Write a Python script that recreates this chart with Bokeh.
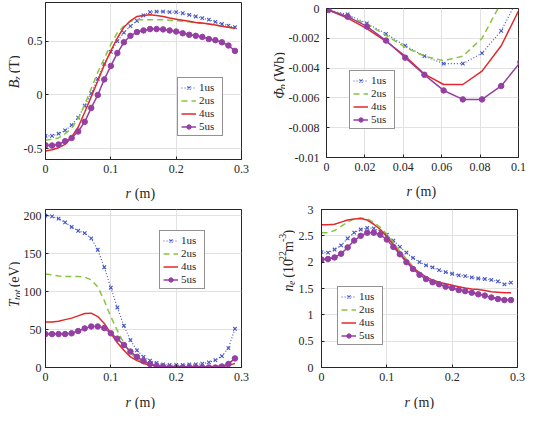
from math import pi

from bokeh.plotting import figure
from bokeh.layouts import row, column
from bokeh.models import Label, FixedTicker
from bokeh.embed import file_html
from bokeh.resources import INLINE

# ---- data ----
r_prof = [0.00, 0.01, 0.02, 0.03, 0.04, 0.05, 0.06, 0.07, 0.08, 0.09,
          0.10, 0.11, 0.12, 0.13, 0.14, 0.15, 0.16, 0.17, 0.18, 0.19,
          0.20, 0.21, 0.22, 0.23, 0.24, 0.25, 0.26, 0.27, 0.28, 0.29]
r_flux = [0.001, 0.011, 0.021, 0.031, 0.041, 0.051, 0.061, 0.071, 0.081, 0.091, 0.101]

series_names = ["1us", "2us", "4us", "5us"]

bz_1 = [-0.38, -0.38, -0.36, -0.33, -0.28, -0.21, -0.10, 0.015, 0.15, 0.29,
        0.40, 0.50, 0.58, 0.64, 0.69, 0.74, 0.77, 0.775, 0.775, 0.77,
        0.77, 0.76, 0.745, 0.73, 0.715, 0.70, 0.68, 0.66, 0.645, 0.63]
bz_2 = [-0.42, -0.41, -0.40, -0.36, -0.31, -0.22, -0.09, 0.06, 0.21, 0.34,
        0.47, 0.58, 0.64, 0.685, 0.70, 0.70, 0.70, 0.70, 0.70, 0.695,
        0.69, 0.685, 0.68, 0.67, 0.665, 0.66, 0.65, 0.64, 0.63, 0.62]
bz_4 = [-0.52, -0.51, -0.49, -0.46, -0.39, -0.30, -0.16, -0.015, 0.13, 0.28,
        0.41, 0.53, 0.63, 0.69, 0.73, 0.74, 0.745, 0.74, 0.73, 0.715,
        0.705, 0.695, 0.685, 0.675, 0.67, 0.66, 0.65, 0.64, 0.63, 0.62]
bz_5 = [-0.467, -0.47, -0.46, -0.43, -0.40, -0.34, -0.25, -0.12, 0.0, 0.145,
        0.27, 0.39, 0.49, 0.55, 0.585, 0.60, 0.613, 0.613, 0.61, 0.60,
        0.59, 0.574, 0.56, 0.55, 0.54, 0.52, 0.51, 0.49, 0.46, 0.41]

phi_1 = [-0.0001, -0.0004, -0.001, -0.0017, -0.0025, -0.0032, -0.0037, -0.0037, -0.003, -0.0015, 0.001]
phi_2 = [-0.0001, -0.0005, -0.00105, -0.0018, -0.0026, -0.0032, -0.0035, -0.0032, -0.002, 0.0004, 0.003]
phi_4 = [-0.0001, -0.00065, -0.00135, -0.0022, -0.0032, -0.0044, -0.0051, -0.0051, -0.0042, -0.0025, 0.0001]
phi_5 = [-0.0001, -0.00055, -0.0012, -0.00215, -0.0033, -0.00445, -0.0055, -0.0061, -0.0061, -0.0052, -0.0036]

t_1 = [200, 199, 196, 191, 185, 180, 177, 170, 155, 132,
       105, 79, 55, 36, 22.6, 14, 9, 6, 4, 3.3,
       3.3, 3.3, 4, 4, 5, 6.7, 9.6, 15, 25.5, 51]
t_2 = [123, 122, 120.5, 119.7, 119.7, 119.7, 119, 115.5, 106, 88,
       67, 48.5, 32, 19, 11, 6.7, 4, 2.5, 1.7, 1.7,
       1.7, 1.7, 1.7, 1.7, 1.7, 1.7, 1.7, 3.3, 6, 11]
t_4 = [60, 60, 61, 63, 65, 68, 71, 71.5, 67, 58,
       45, 32.6, 22.6, 14, 9, 5.4, 3.3, 2, 1, 1,
       1, 1, 1, 1, 1, 1, 1, 1.3, 2.5, 5.4]
t_5 = [44, 44, 44, 44, 45, 48, 51.5, 54, 54, 52,
       45, 38, 29.7, 21, 14, 8.4, 4.6, 2, 1, 0,
       0, 0, 0, 0, 0, 0, 0, 1.3, 4.6, 12]

ne_1 = [2.19, 2.18, 2.24, 2.32, 2.45, 2.56, 2.62, 2.65, 2.64, 2.58,
        2.52, 2.41, 2.29, 2.18, 2.08, 2.0, 1.94, 1.9, 1.85, 1.81,
        1.78, 1.75, 1.735, 1.71, 1.69, 1.68, 1.665, 1.635, 1.58, 1.61]
ne_2 = [2.56, 2.56, 2.6, 2.68, 2.76, 2.82, 2.84, 2.82, 2.76, 2.66,
        2.53, 2.37, 2.21, 2.06, 1.92, 1.78, 1.69, 1.63, 1.585, 1.545,
        1.515, 1.48, 1.455, 1.43, 1.40, 1.37, 1.34, 1.31, 1.29, 1.28]
ne_4 = [2.71, 2.71, 2.72, 2.76, 2.8, 2.82, 2.83, 2.8, 2.72, 2.62,
        2.49, 2.33, 2.16, 2.02, 1.89, 1.8, 1.72, 1.66, 1.62, 1.59,
        1.56, 1.535, 1.51, 1.49, 1.48, 1.46, 1.44, 1.43, 1.42, 1.42]
ne_5 = [2.05, 2.06, 2.09, 2.16, 2.28, 2.41, 2.5, 2.56, 2.56, 2.52,
        2.43, 2.29, 2.15, 2.0, 1.87, 1.76, 1.68, 1.62, 1.58, 1.535,
        1.51, 1.47, 1.45, 1.42, 1.39, 1.365, 1.33, 1.30, 1.28, 1.28]

# tick values and their labels
x_ticks_03 = [0, 0.1, 0.2, 0.3]
x_labels_03 = ["0", "0.1", "0.2", "0.3"]
x_ticks_01 = [0, 0.02, 0.04, 0.06, 0.08, 0.1]
x_labels_01 = ["0", "0.02", "0.04", "0.06", "0.08", "0.1"]
bz_ticks = [-0.5, 0, 0.5]
bz_labels = ["-0.5", "0", "0.5"]
phi_ticks = [-0.01, -0.008, -0.006, -0.004, -0.002, 0]
phi_labels = ["-0.01", "-0.008", "-0.006", "-0.004", "-0.002", "0"]
t_ticks = [0, 50, 100, 150, 200]
t_labels = ["0", "50", "100", "150", "200"]
ne_ticks = [0, 0.5, 1, 1.5, 2, 2.5, 3]
ne_labels = ["0", "0.5", "1", "1.5", "2", "2.5", "3"]

FONT = "Liberation Serif, Times New Roman, serif"
INK = "#262626"
BLUE = "#4656c4"
GREEN = "#86c540"
RED = "#e2282c"
PURPLE = "#953fa3"

# rough Times-like advance widths (em) used to lay out the axis titles
W_REG = {" ": 0.25, "(": 0.333, ")": 0.333, "T": 0.611, "W": 0.944, "b": 0.5,
         "e": 0.444, "V": 0.722, "m": 0.778, "-": 0.333}
W_IT = {"B": 0.611, "z": 0.389, "r": 0.389, "T": 0.556, "t": 0.278, "o": 0.5,
        "n": 0.5, "e": 0.444, "p": 0.5, "Φ": 0.76}


def text_width(s, size, italic):
    table = W_IT if italic else W_REG
    return sum(table.get(c, 0.5) for c in s) * size


def title_strip(w, h, pieces, x, y, vertical):
    # a bare figure that only carries an axis title made of several runs
    # (italic / sub- / superscript); x, y is the centre of the baseline
    f = figure(width=w, height=h, x_range=(0, w), y_range=(0, h),
               x_axis_type=None, y_axis_type=None, min_border=0, title=None,
               output_backend="svg", toolbar_location=None)
    f.outline_line_color = None
    total = sum(text_width(t, sz, it) + 0.5 for t, sz, it, sh in pieces)
    pos = -total / 2
    for t, sz, it, sh in pieces:
        # svg drops leading blanks, so turn them into an offset
        lead = len(t) - len(t.lstrip(" "))
        pos += lead * 0.25 * sz
        t = t.lstrip(" ")
        kw = dict(text=t, text_font=FONT, text_font_size="%dpx" % sz,
                  text_font_style="italic" if it else "normal",
                  text_color=INK, text_align="left", text_baseline="alphabetic")
        if vertical:
            lab = Label(x=x + sh, y=y + pos, angle=pi / 2, **kw)
        else:
            lab = Label(x=x + pos, y=y - sh, **kw)
        f.add_layout(lab)
        pos += text_width(t, sz, it) + 0.5
    return f


def make_panel(fw, fh, left, right, top, bottom, xr, yr, xt, xl, yt, yl, ystand):
    p = figure(frame_width=fw, frame_height=fh, x_range=xr, y_range=yr,
               min_border_left=left, min_border_right=right,
               min_border_top=top, min_border_bottom=bottom, title=None,
               output_backend="svg", toolbar_location=None)
    p.outline_line_color = INK
    p.background_fill_color = "white"
    p.border_fill_color = "white"
    p.xaxis.ticker = FixedTicker(ticks=xt)
    p.xaxis.major_label_overrides = dict(zip(xt, xl))
    p.yaxis.ticker = FixedTicker(ticks=yt)
    p.yaxis.major_label_overrides = dict(zip(yt, yl))
    for ax in (p.xaxis[0], p.yaxis[0]):
        ax.axis_line_color = INK
        ax.major_tick_line_color = INK
        ax.major_tick_in = 3
        ax.major_tick_out = 0
        ax.minor_tick_line_color = None
        ax.major_label_text_font = FONT
        ax.major_label_text_font_size = "12px"
        ax.major_label_text_color = INK
    p.xaxis.major_label_standoff = 5
    p.yaxis.major_label_standoff = ystand
    p.grid.grid_line_color = "#e2e2e2"
    return p


def draw_series(p, x, ys):
    y1, y2, y4, y5 = ys
    n1, n2, n4, n5 = series_names
    p.line(x, y1, line_color=BLUE, line_width=1.2, line_dash="1 2", legend_label=n1)
    p.scatter(x, y1, marker="x", size=5, line_color=BLUE, line_width=1.1, legend_label=n1)
    p.line(x, y2, line_color=GREEN, line_width=1.5, line_dash="6 4", legend_label=n2)
    p.line(x, y4, line_color=RED, line_width=1.5, legend_label=n4)
    p.line(x, y5, line_color=PURPLE, line_width=1.5, legend_label=n5)
    p.scatter(x, y5, marker="circle", size=5.5, fill_color=PURPLE,
              line_color=PURPLE, legend_label=n5)


def style_legend(p, loc):
    lg = p.legend[0]
    lg.location = loc
    lg.label_text_font = FONT
    lg.label_text_font_size = "11px"
    lg.label_text_color = INK
    lg.glyph_width = 15
    lg.glyph_height = 11
    lg.label_height = 11
    lg.label_standoff = 3
    lg.padding = 3
    lg.spacing = 1
    lg.margin = 0
    lg.border_line_color = INK
    lg.border_line_width = 1
    lg.background_fill_alpha = 1


r_title = [("r", 14, True, 0), (" (m)", 14, False, 0)]

# B_z  (block 262 x 205)
p1 = make_panel(196, 157, 22, 24, 2, 20, (0, 0.3), (-0.6, 0.86),
                x_ticks_03, x_labels_03, bz_ticks, bz_labels, 3)
draw_series(p1, r_prof, [bz_1, bz_2, bz_4, bz_5])
style_legend(p1, (132, 23))
y1t = title_strip(20, 179, [("B", 14, True, 0), ("z", 10, True, 3),
                            (" (T)", 14, False, 0)], 14, 99, True)
x1t = title_strip(262, 26, r_title, 140, 12, False)
block1 = column(row(y1t, p1), x1t)

# Phi_p  (block 260 x 205)
p2 = make_panel(192, 149, 40, 8, 8, 20, (0, 0.1), (-0.01, 0),
                x_ticks_01, x_labels_01, phi_ticks, phi_labels, 7)
draw_series(p2, r_flux, [phi_1, phi_2, phi_4, phi_5])
style_legend(p2, (23, 28))
y2t = title_strip(20, 177, [("Φ", 14, True, 0), ("p", 10, True, 3),
                            (" (Wb)", 14, False, 0)], 14, 95, True)
x2t = title_strip(260, 28, r_title, 156, 14, False)
block2 = column(row(y2t, p2), x2t)

# T_tot  (block 262 x 204)
p3 = make_panel(196, 158, 22, 24, 4, 20, (0, 0.3), (0, 208),
                x_ticks_03, x_labels_03, t_ticks, t_labels, 4)
draw_series(p3, r_prof, [t_1, t_2, t_4, t_5])
style_legend(p3, (114, 78))
y3t = title_strip(20, 182, [("T", 14, True, 0), ("tot", 10, True, 3),
                            (" (eV)", 14, False, 0)], 14, 94, True)
x3t = title_strip(262, 22, r_title, 140, 7, False)
block3 = column(row(y3t, p3), x3t)

# n_e  (block 260 x 204)
p4 = make_panel(196, 158, 26, 8, 4, 20, (0, 0.3), (0, 3),
                x_ticks_03, x_labels_03, ne_ticks, ne_labels, 8)
draw_series(p4, r_prof, [ne_1, ne_2, ne_4, ne_5])
style_legend(p4, (16, 22))
y4t = title_strip(30, 182, [("n", 14, True, 0), ("e", 10, True, 3), (" (10", 14, False, 0),
                            ("22", 10, False, -6), ("m", 14, False, 0), ("-3", 10, False, -6),
                            (")", 14, False, 0)], 23, 123, True)
x4t = title_strip(260, 22, r_title, 154, 7, False)
block4 = column(row(y4t, p4), x4t)

page = column(row(block1, block2), row(block3, block4))

open("out.html", "w").write(file_html(page, INLINE))
